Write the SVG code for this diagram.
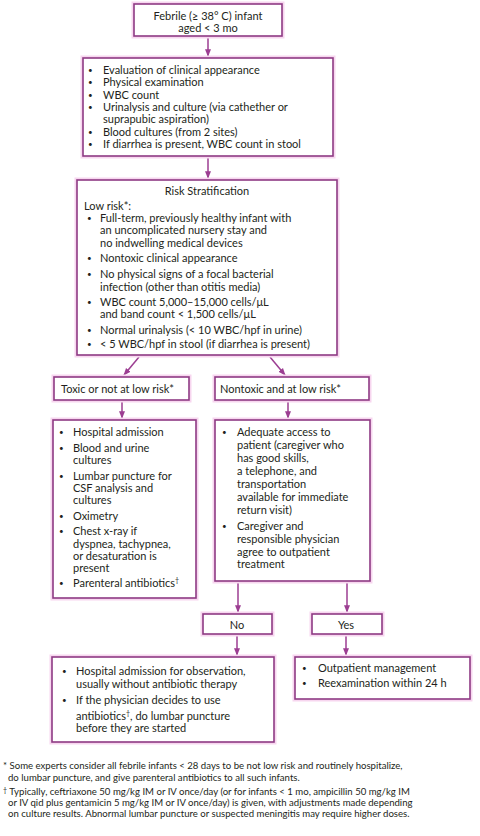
<svg xmlns="http://www.w3.org/2000/svg" width="480" height="836" viewBox="0 0 480 836">
<defs>
<style>
.box{fill:#fff;stroke:#8e3a84;stroke-width:1.6}
.halo{fill:none;stroke:#f7d6ef;stroke-width:5}
.t{font-family:Lato,"Liberation Sans",sans-serif;font-size:11px;fill:#231f20}
.b{font-size:8px}
.f{font-family:Lato,"Liberation Sans",sans-serif;font-size:9.6px;fill:#231f20}
.c{text-anchor:middle}
.con{stroke:#9c3e92;stroke-width:1.5;fill:none;marker-end:url(#ah)}
</style>
<marker id="ah" viewBox="0 0 10 10" refX="9" refY="5" markerWidth="5" markerHeight="5" orient="auto" markerUnits="strokeWidth">
<path d="M0,1 L10,5 L0,9 z" fill="#9c3e92"/>
</marker>
</defs>
<rect width="480" height="836" fill="#fff"/>

<g id="connectors">
<line class="con" x1="208" y1="36" x2="208" y2="56"/>
<line class="con" x1="208" y1="156" x2="208" y2="178"/>
<line class="con" x1="139" y1="357" x2="124" y2="375"/>
<line class="con" x1="270" y1="357" x2="285" y2="375"/>
<line class="con" x1="122" y1="400" x2="122" y2="418"/>
<line class="con" x1="288" y1="400" x2="288" y2="418"/>
<line class="con" x1="238" y1="581" x2="238" y2="612"/>
<line class="con" x1="347" y1="581" x2="347" y2="612"/>
<line class="con" x1="237" y1="634" x2="237" y2="655"/>
<line class="con" x1="346" y1="634" x2="346" y2="655"/>
</g>

<g id="n1">
<rect class="halo" x="134" y="4" width="148" height="32"/>
<rect class="box" x="134" y="4" width="148" height="32"/>
<text class="t c" x="208" y="20">Febrile (≥ 38° C) infant</text>
<text class="t c" x="208" y="32">aged &lt; 3 mo</text>
</g>

<g id="n2">
<rect class="halo" x="83" y="58" width="250" height="98"/>
<rect class="box" x="83" y="58" width="250" height="98"/>
<g class="t">
<text class="b" x="88" y="73">•</text><text x="103" y="74">Evaluation of clinical appearance</text>
<text class="b" x="88" y="85">•</text><text x="103" y="86">Physical examination</text>
<text class="b" x="88" y="97.5">•</text><text x="103" y="98.5">WBC count</text>
<text class="b" x="88" y="110">•</text><text x="103" y="111">Urinalysis and culture (via cathether or</text>
<text x="103" y="123">suprapubic aspiration)</text>
<text class="b" x="88" y="134.5">•</text><text x="103" y="135.5">Blood cultures (from 2 sites)</text>
<text class="b" x="88" y="147">•</text><text x="103" y="148">If diarrhea is present, WBC count in stool</text>
</g>
</g>

<g id="n3">
<rect class="halo" x="77" y="180" width="260" height="175"/>
<rect class="box" x="77" y="180" width="260" height="175"/>
<g class="t">
<text class="c" x="207" y="194.5">Risk Stratification</text>
<text x="84" y="210">Low risk*:</text>
<text class="b" x="87" y="221">•</text><text x="100" y="222">Full-term, previously healthy infant with</text>
<text x="100" y="234">an uncomplicated nursery stay and</text>
<text x="100" y="246.5">no indwelling medical devices</text>
<text class="b" x="87" y="261">•</text><text x="100" y="262">Nontoxic clinical appearance</text>
<text class="b" x="87" y="277">•</text><text x="100" y="278">No physical signs of a focal bacterial</text>
<text x="100" y="290.5">infection (other than otitis media)</text>
<text class="b" x="87" y="305">•</text><text x="100" y="306">WBC count 5,000–15,000 cells/μL</text>
<text x="100" y="318">and band count &lt; 1,500 cells/μL</text>
<text class="b" x="87" y="332.5">•</text><text x="100" y="333.5">Normal urinalysis (&lt; 10 WBC/hpf in urine)</text>
<text class="b" x="87" y="347">•</text><text x="100" y="348">&lt; 5 WBC/hpf in stool (if diarrhea is present)</text>
</g>
</g>

<g id="n4">
<rect class="halo" x="54" y="377" width="135" height="23"/>
<rect class="box" x="54" y="377" width="135" height="23"/>
<text class="t" x="61" y="393">Toxic or not at low risk*</text>
</g>

<g id="n5">
<rect class="halo" x="215" y="377" width="154" height="23"/>
<rect class="box" x="215" y="377" width="154" height="23"/>
<text class="t" x="220" y="393">Nontoxic and at low risk*</text>
</g>

<g id="n6">
<rect class="halo" x="53" y="420" width="143" height="178"/>
<rect class="box" x="53" y="420" width="143" height="178"/>
<g class="t">
<text class="b" x="59" y="435">•</text><text x="73" y="436">Hospital admission</text>
<text class="b" x="59" y="450.5">•</text><text x="73" y="451.5">Blood and urine</text>
<text x="73" y="464">cultures</text>
<text class="b" x="59" y="478.5">•</text><text x="73" y="479.5">Lumbar puncture for</text>
<text x="73" y="492">CSF analysis and</text>
<text x="73" y="504">cultures</text>
<text class="b" x="59" y="519">•</text><text x="73" y="520">Oximetry</text>
<text class="b" x="59" y="534">•</text><text x="73" y="535">Chest x-ray if</text>
<text x="73" y="547.5">dyspnea, tachypnea,</text>
<text x="73" y="560">or desaturation is</text>
<text x="73" y="572">present</text>
<text class="b" x="59" y="586">•</text><text x="73" y="587">Parenteral antibiotics<tspan font-size="7" dy="-4">†</tspan></text>
</g>
</g>

<g id="n7">
<rect class="halo" x="215" y="420" width="155" height="161"/>
<rect class="box" x="215" y="420" width="155" height="161"/>
<g class="t">
<text class="b" x="222" y="435">•</text><text x="237" y="436">Adequate access to</text>
<text x="237" y="449">patient (caregiver who</text>
<text x="237" y="462">has good skills,</text>
<text x="237" y="475">a telephone, and</text>
<text x="237" y="488">transportation</text>
<text x="237" y="501">available for immediate</text>
<text x="237" y="514">return visit)</text>
<text class="b" x="222" y="529">•</text><text x="237" y="530">Caregiver and</text>
<text x="237" y="543">responsible physician</text>
<text x="237" y="555.5">agree to outpatient</text>
<text x="237" y="568">treatment</text>
</g>
</g>

<g id="n8">
<rect class="halo" x="203" y="614" width="69" height="20"/>
<rect class="box" x="203" y="614" width="69" height="20"/>
<text class="t c" x="237" y="628.5">No</text>
</g>

<g id="n9">
<rect class="halo" x="312" y="614" width="70" height="20"/>
<rect class="box" x="312" y="614" width="70" height="20"/>
<text class="t c" x="346" y="628.5">Yes</text>
</g>

<g id="n10">
<rect class="halo" x="52" y="657" width="222" height="85"/>
<rect class="box" x="52" y="657" width="222" height="85"/>
<g class="t">
<text class="b" x="62" y="674">•</text><text x="76" y="675">Hospital admission for observation,</text>
<text x="76" y="688">usually without antibiotic therapy</text>
<text class="b" x="62" y="703">•</text><text x="76" y="704">If the physician decides to use</text>
<text x="76" y="720">antibiotics<tspan font-size="7" dy="-4">†</tspan><tspan dy="4">, do lumbar puncture</tspan></text>
<text x="76" y="732">before they are started</text>
</g>
</g>

<g id="n11">
<rect class="halo" x="295" y="657" width="175" height="42"/>
<rect class="box" x="295" y="657" width="175" height="42"/>
<g class="t">
<text class="b" x="302" y="671">•</text><text x="318" y="672">Outpatient management</text>
<text class="b" x="302" y="686">•</text><text x="318" y="687">Reexamination within 24 h</text>
</g>
</g>

<g id="footnotes" class="f">
<text x="3" y="769">* Some experts consider all febrile infants &lt; 28 days to be not low risk and routinely hospitalize,</text>
<text x="8" y="780.5">do lumbar puncture, and give parenteral antibiotics to all such infants.</text>
<text x="3" y="795"><tspan font-size="7" dy="-2">†</tspan><tspan dy="2"> Typically, ceftriaxone 50 mg/kg IM or IV once/day (or for infants &lt; 1 mo, ampicillin 50 mg/kg IM</tspan></text>
<text x="8" y="806">or IV qid plus gentamicin 5 mg/kg IM or IV once/day) is given, with adjustments made depending</text>
<text x="8" y="817">on culture results. Abnormal lumbar puncture or suspected meningitis may require higher doses.</text>
</g>
</svg>
